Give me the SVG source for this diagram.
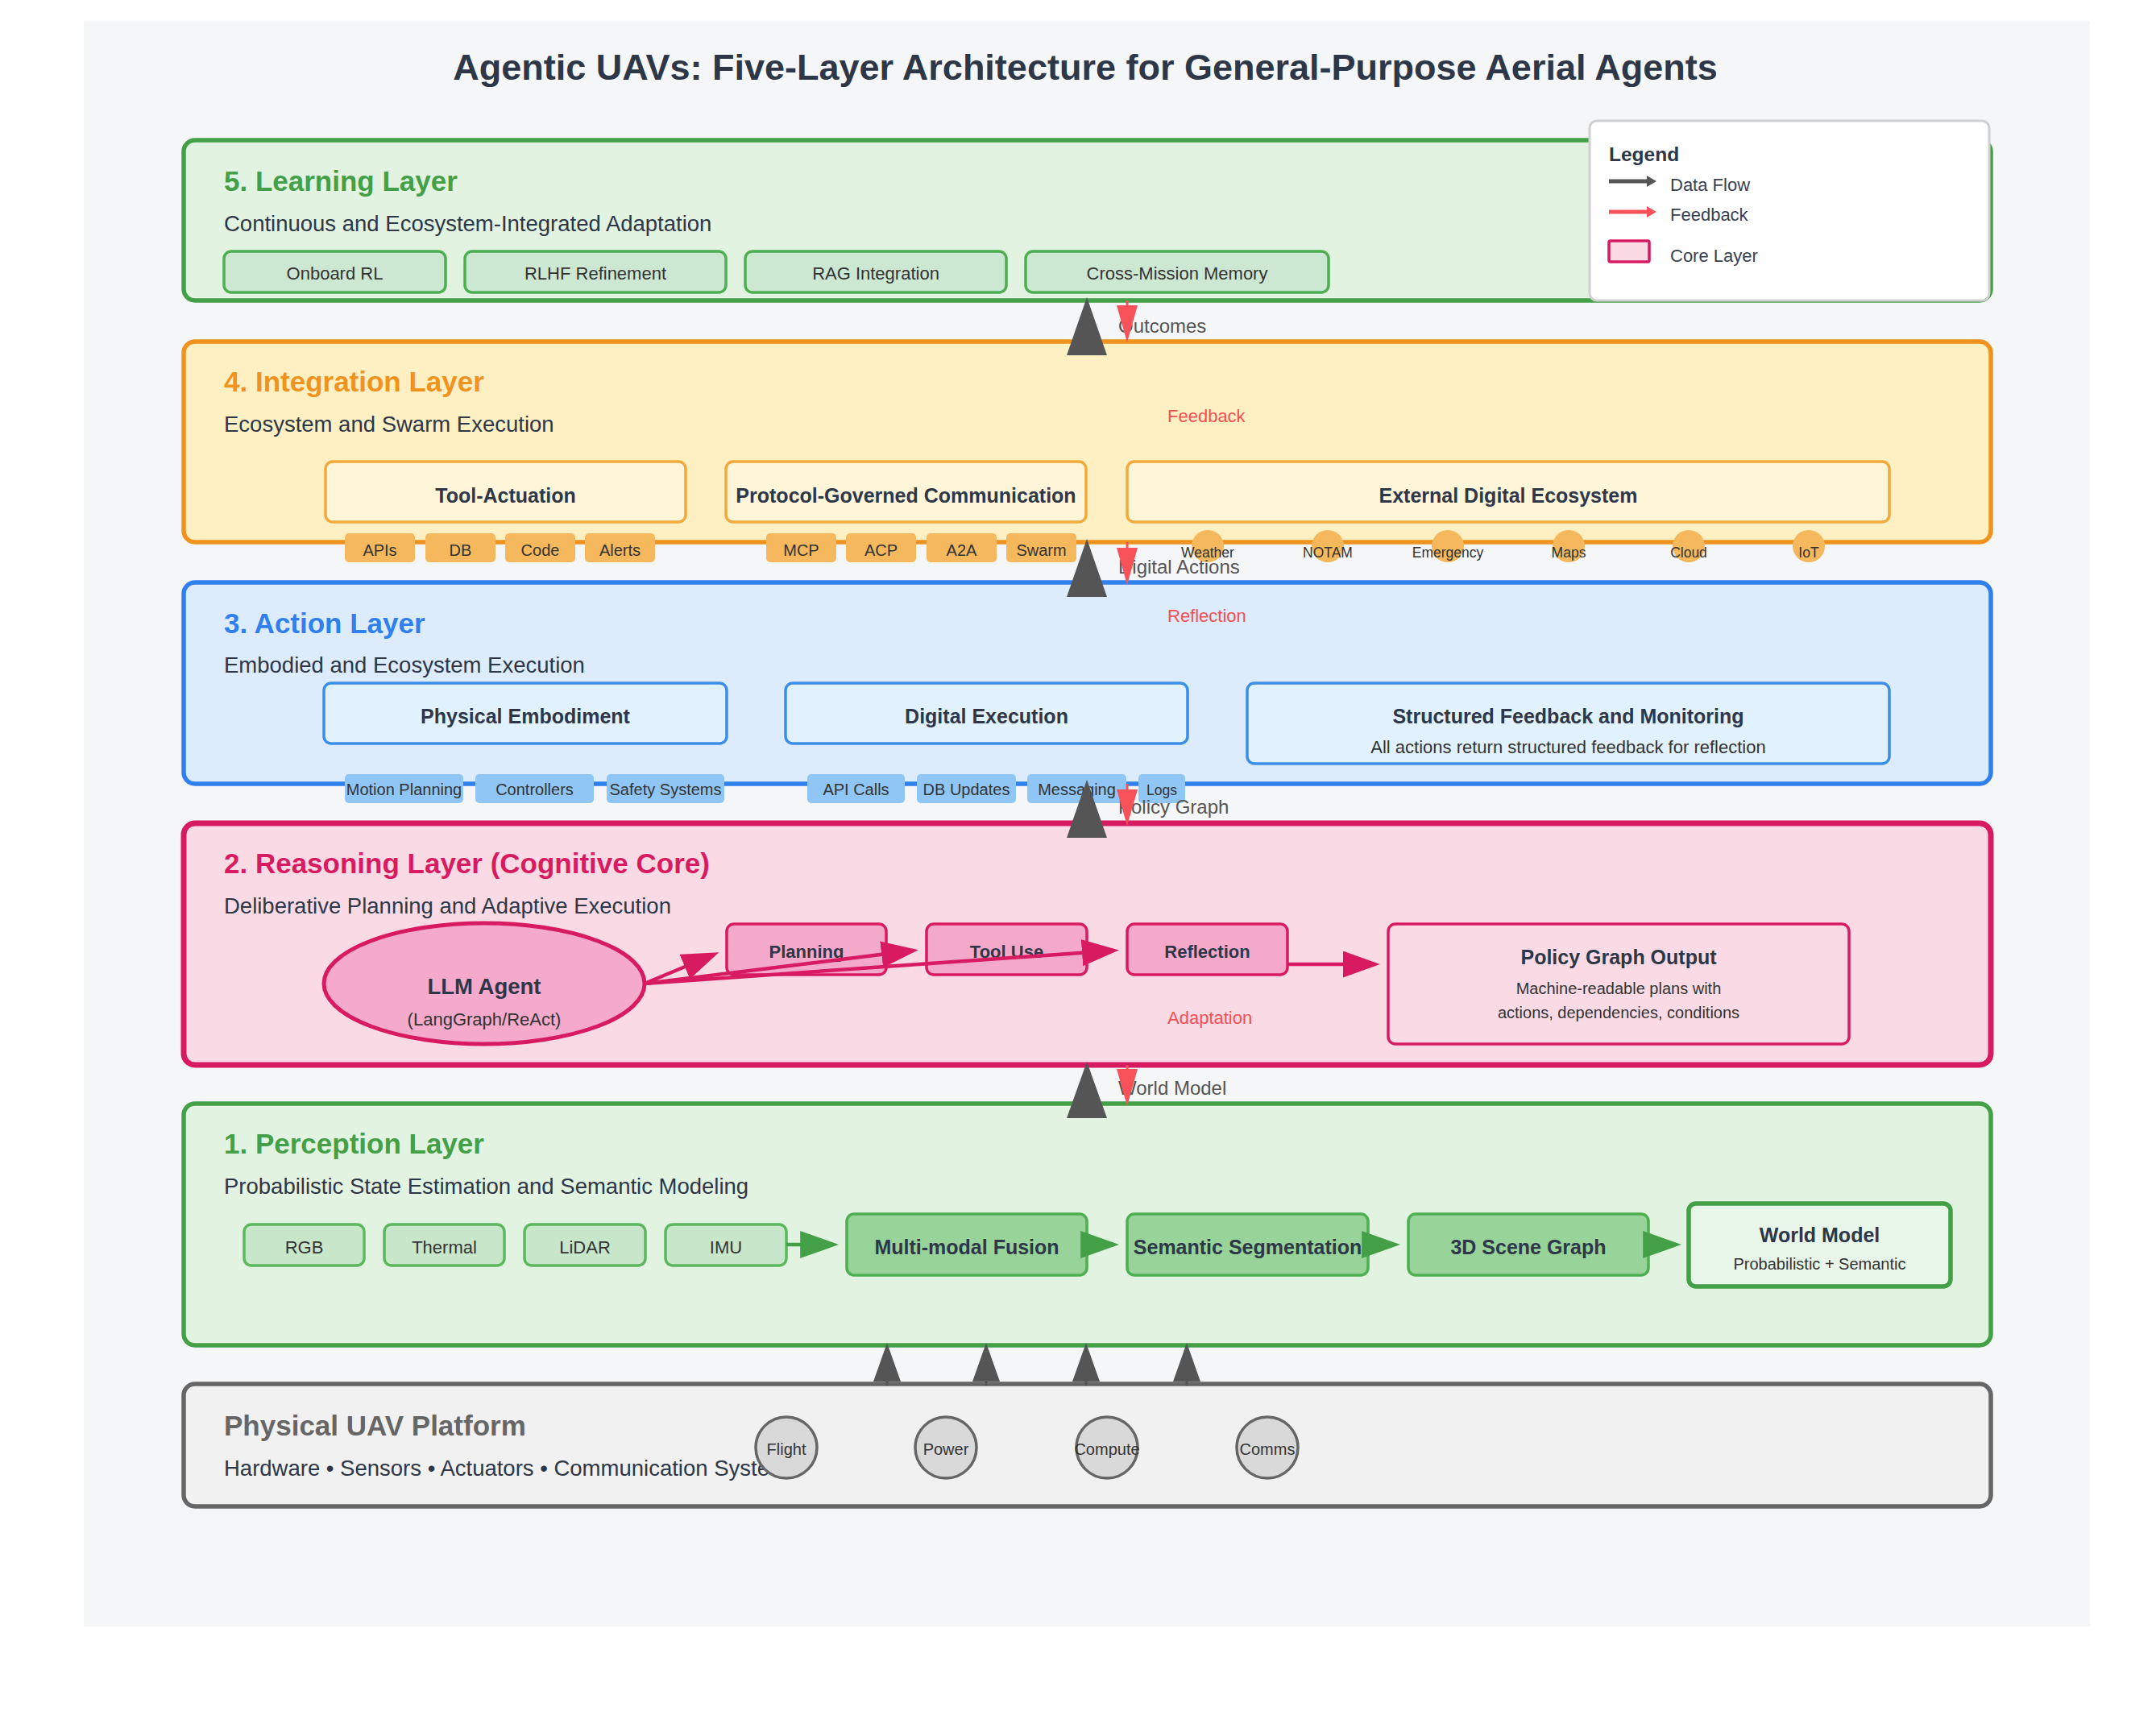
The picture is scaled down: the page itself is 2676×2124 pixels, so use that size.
<svg xmlns="http://www.w3.org/2000/svg" width="2676" height="2124" viewBox="0 0 2676 2124">
<defs>
<style>
text{font-family:'Liberation Sans',Arial,Helvetica,sans-serif;}
.lt{font-size:35px;font-weight:bold;}
.ls{font-size:27.5px;fill:#2d3748;}
.bt{font-size:25px;font-weight:bold;fill:#2d3748;text-anchor:middle;}
.bt22{font-size:22px;font-weight:bold;fill:#2d3748;text-anchor:middle;}
.ct{font-size:22px;fill:#333;text-anchor:middle;}
.c20{font-size:20px;fill:#333;text-anchor:middle;}
.c18{font-size:17.5px;fill:#333;text-anchor:middle;}
.el{font-size:24px;fill:#555;}
.fl{font-size:22px;fill:#f25055;}
.lg{font-size:22px;fill:#374151;}
.gchip{fill:#cde8d2;stroke:#4caf50;stroke-width:3.5;}
.ochip{fill:#f6b85c;}
.bchip{fill:#90c6f5;}
.obox{fill:#fff6da;stroke:#f2a93b;stroke-width:3.5;}
.bbox{fill:#e1f2fe;stroke:#3b8ee8;stroke-width:3.5;}
.pbox{fill:#f4a9cb;stroke:#d81b60;stroke-width:3.5;}
.schip{fill:#c8e6c9;stroke:#5cb85f;stroke-width:3.5;}
.proc{fill:#98d39a;stroke:#4caf50;stroke-width:3.5;}
.hw{fill:#d9d9d9;stroke:#666;stroke-width:3.5;}
.dark{fill:#555;}
.red{fill:#f7525a;}
.stem-d{stroke:#555;stroke-width:3;}
.stem-r{stroke:#f7525a;stroke-width:3;}
.garrow{stroke:#43a047;stroke-width:4.5;fill:none;marker-end:url(#ah-green);}
.parrow{stroke:#d81b60;stroke-width:4.5;fill:none;marker-end:url(#ah-pink);}
</style>
<marker id="ah-green" viewBox="0 0 10 7" refX="8.5" refY="3.5" markerWidth="48" markerHeight="34" markerUnits="userSpaceOnUse" orient="auto" preserveAspectRatio="none">
<path d="M0,0 L10,3.5 L0,7 z" fill="#43a047"/>
</marker>
<marker id="ah-pink" viewBox="0 0 10 7" refX="8.5" refY="3.5" markerWidth="46" markerHeight="33" markerUnits="userSpaceOnUse" orient="auto" preserveAspectRatio="none">
<path d="M0,0 L10,3.5 L0,7 z" fill="#d81b60"/>
</marker>
<marker id="ah-leg-dark" viewBox="0 0 12 14" refX="2" refY="7" markerWidth="12" markerHeight="14" markerUnits="userSpaceOnUse" orient="auto">
<path d="M0,0 L12,7 L0,14 z" fill="#555"/>
</marker>
<marker id="ah-leg-red" viewBox="0 0 12 14" refX="2" refY="7" markerWidth="12" markerHeight="14" markerUnits="userSpaceOnUse" orient="auto">
<path d="M0,0 L12,7 L0,14 z" fill="#f7525a"/>
</marker>
</defs>

<rect x="0" y="0" width="2676" height="2124" fill="#ffffff"/>
<rect x="104" y="26" width="2490" height="1993" fill="#f5f6f8"/>
<text x="1347" y="99" text-anchor="middle" font-size="45" font-weight="bold" fill="#2d3748">Agentic UAVs: Five-Layer Architecture for General-Purpose Aerial Agents</text>

<!-- Layer 5 -->
<g id="layer5-learning">
<rect x="228" y="174" width="2243" height="199" rx="14" fill="#e2f3e1" stroke="#43a047" stroke-width="5.5"/>
<text x="278" y="237" class="lt" fill="#43a047">5. Learning Layer</text>
<text x="278" y="287" class="ls">Continuous and Ecosystem-Integrated Adaptation</text>
</g>
<g id="onboard-rl"><rect x="278" y="312" width="275" height="51" rx="9" class="gchip"/><text x="415.5" y="347" class="ct">Onboard RL</text></g>
<g id="rlhf-refinement"><rect x="577" y="312" width="324" height="51" rx="9" class="gchip"/><text x="739" y="347" class="ct">RLHF Refinement</text></g>
<g id="rag-integration"><rect x="925" y="312" width="324" height="51" rx="9" class="gchip"/><text x="1087" y="347" class="ct">RAG Integration</text></g>
<g id="cross-mission-memory"><rect x="1273" y="312" width="376" height="51" rx="9" class="gchip"/><text x="1461" y="347" class="ct">Cross-Mission Memory</text></g>

<!-- Layer 4 -->
<g id="layer4-integration">
<rect x="228" y="424" width="2243" height="249" rx="14" fill="#fff0c4" stroke="#f0921e" stroke-width="5.5"/>
<text x="278" y="486" class="lt" fill="#f0921e">4. Integration Layer</text>
<text x="278" y="536" class="ls">Ecosystem and Swarm Execution</text>
</g>
<g id="tool-actuation"><rect x="404" y="573" width="447" height="75" rx="9" class="obox"/><text x="627.5" y="624" class="bt">Tool-Actuation</text></g>
<g id="protocol-communication"><rect x="901" y="573" width="447" height="75" rx="9" class="obox"/><text x="1124.5" y="624" class="bt">Protocol-Governed Communication</text></g>
<g id="external-ecosystem"><rect x="1399" y="573" width="946" height="75" rx="9" class="obox"/><text x="1872" y="624" class="bt">External Digital Ecosystem</text></g>
<g id="chip-apis"><rect x="428" y="662" width="87" height="36" rx="5" class="ochip"/><text x="471.5" y="690" class="c20">APIs</text></g>
<g id="chip-db"><rect x="528" y="662" width="87" height="36" rx="5" class="ochip"/><text x="571.5" y="690" class="c20">DB</text></g>
<g id="chip-code"><rect x="627" y="662" width="87" height="36" rx="5" class="ochip"/><text x="670.5" y="690" class="c20">Code</text></g>
<g id="chip-alerts"><rect x="726" y="662" width="87" height="36" rx="5" class="ochip"/><text x="769.5" y="690" class="c20">Alerts</text></g>
<g id="chip-mcp"><rect x="951" y="662" width="87" height="36" rx="5" class="ochip"/><text x="994.5" y="690" class="c20">MCP</text></g>
<g id="chip-acp"><rect x="1050" y="662" width="87" height="36" rx="5" class="ochip"/><text x="1093.5" y="690" class="c20">ACP</text></g>
<g id="chip-a2a"><rect x="1150" y="662" width="87" height="36" rx="5" class="ochip"/><text x="1193.5" y="690" class="c20">A2A</text></g>
<g id="chip-swarm"><rect x="1249" y="662" width="87" height="36" rx="5" class="ochip"/><text x="1292.5" y="690" class="c20">Swarm</text></g>
<g id="eco-weather"><circle cx="1499" cy="678" r="20" class="ochip"/><text x="1499" y="692" class="c18">Weather</text></g>
<g id="eco-notam"><circle cx="1648" cy="678" r="20" class="ochip"/><text x="1648" y="692" class="c18">NOTAM</text></g>
<g id="eco-emergency"><circle cx="1797" cy="678" r="20" class="ochip"/><text x="1797" y="692" class="c18">Emergency</text></g>
<g id="eco-maps"><circle cx="1947" cy="678" r="20" class="ochip"/><text x="1947" y="692" class="c18">Maps</text></g>
<g id="eco-cloud"><circle cx="2096" cy="678" r="20" class="ochip"/><text x="2096" y="692" class="c18">Cloud</text></g>
<g id="eco-iot"><circle cx="2245" cy="678" r="20" class="ochip"/><text x="2245" y="692" class="c18">IoT</text></g>

<!-- Layer 3 -->
<g id="layer3-action">
<rect x="228" y="723" width="2243" height="250" rx="14" fill="#dcecfc" stroke="#2f80ed" stroke-width="5.5"/>
<text x="278" y="786" class="lt" fill="#2f80ed">3. Action Layer</text>
<text x="278" y="835" class="ls">Embodied and Ecosystem Execution</text>
</g>
<g id="physical-embodiment"><rect x="402" y="848" width="500" height="75" rx="9" class="bbox"/><text x="652" y="898" class="bt">Physical Embodiment</text></g>
<g id="digital-execution"><rect x="975" y="848" width="499" height="75" rx="9" class="bbox"/><text x="1224.5" y="898" class="bt">Digital Execution</text></g>
<g id="structured-feedback"><rect x="1548" y="848" width="797" height="100" rx="9" class="bbox"/><text x="1946.5" y="898" class="bt">Structured Feedback and Monitoring</text><text x="1946.5" y="935" class="ct">All actions return structured feedback for reflection</text></g>
<g id="chip-motion-planning"><rect x="428" y="961" width="147" height="36" rx="5" class="bchip"/><text x="501.5" y="987" class="c20">Motion Planning</text></g>
<g id="chip-controllers"><rect x="590" y="961" width="147" height="36" rx="5" class="bchip"/><text x="663.5" y="987" class="c20">Controllers</text></g>
<g id="chip-safety"><rect x="753" y="961" width="146" height="36" rx="5" class="bchip"/><text x="826" y="987" class="c20">Safety Systems</text></g>
<g id="chip-api-calls"><rect x="1002" y="961" width="121" height="36" rx="5" class="bchip"/><text x="1062.5" y="987" class="c20">API Calls</text></g>
<g id="chip-db-updates"><rect x="1138" y="961" width="123" height="36" rx="5" class="bchip"/><text x="1199.5" y="987" class="c20">DB Updates</text></g>
<g id="chip-messaging"><rect x="1275" y="961" width="123" height="36" rx="5" class="bchip"/><text x="1336.5" y="987" class="c20">Messaging</text></g>
<g id="chip-logs"><rect x="1413" y="961" width="58" height="36" rx="5" class="bchip"/><text x="1442" y="987" class="c18">Logs</text></g>

<!-- Layer 2 -->
<g id="layer2-reasoning">
<rect x="228" y="1022" width="2243" height="300" rx="14" fill="#fadbe5" stroke="#d81b60" stroke-width="7"/>
<text x="278" y="1084" class="lt" fill="#d81b60">2. Reasoning Layer (Cognitive Core)</text>
<text x="278" y="1134" class="ls">Deliberative Planning and Adaptive Execution</text>
</g>
<g id="llm-agent"><ellipse cx="601" cy="1221" rx="199" ry="75" fill="#f5a9cb" stroke="#d81b60" stroke-width="5"/><text x="601" y="1234" text-anchor="middle" font-size="27.5" font-weight="bold" fill="#2d3748">LLM Agent</text><text x="601" y="1273" class="ct">(LangGraph/ReAct)</text></g>
<g id="planning"><rect x="902" y="1147" width="198" height="63" rx="9" class="pbox"/><text x="1001" y="1189" class="bt22">Planning</text></g>
<g id="tool-use"><rect x="1150" y="1147" width="199" height="63" rx="9" class="pbox"/><text x="1249.5" y="1189" class="bt22">Tool Use</text></g>
<g id="reflection"><rect x="1399" y="1147" width="199" height="63" rx="9" class="pbox"/><text x="1498.5" y="1189" class="bt22">Reflection</text></g>
<g id="policy-graph-output"><rect x="1723" y="1147" width="572" height="149" rx="9" fill="#fadbe5" stroke="#d81b60" stroke-width="3.5"/><text x="2009" y="1197" class="bt">Policy Graph Output</text><text x="2009" y="1234" class="c20">Machine-readable plans with</text><text x="2009" y="1264" class="c20">actions, dependencies, conditions</text></g>

<!-- Layer 1 -->
<g id="layer1-perception">
<rect x="228" y="1370" width="2243" height="300" rx="14" fill="#e2f3e1" stroke="#43a047" stroke-width="5.5"/>
<text x="278" y="1432" class="lt" fill="#43a047">1. Perception Layer</text>
<text x="278" y="1482" class="ls">Probabilistic State Estimation and Semantic Modeling</text>
</g>
<g id="sensor-rgb"><rect x="303" y="1520" width="149" height="51" rx="9" class="schip"/><text x="377.5" y="1556" class="ct">RGB</text></g>
<g id="sensor-thermal"><rect x="477" y="1520" width="149" height="51" rx="9" class="schip"/><text x="551.5" y="1556" class="ct">Thermal</text></g>
<g id="sensor-lidar"><rect x="651" y="1520" width="150" height="51" rx="9" class="schip"/><text x="726" y="1556" class="ct">LiDAR</text></g>
<g id="sensor-imu"><rect x="826" y="1520" width="150" height="51" rx="9" class="schip"/><text x="901" y="1556" class="ct">IMU</text></g>
<g id="multimodal-fusion"><rect x="1051" y="1507" width="298" height="76" rx="9" class="proc"/><text x="1200" y="1557" class="bt">Multi-modal Fusion</text></g>
<g id="semantic-segmentation"><rect x="1399" y="1507" width="299" height="76" rx="9" class="proc"/><text x="1548.5" y="1557" class="bt">Semantic Segmentation</text></g>
<g id="scene-graph"><rect x="1748" y="1507" width="298" height="76" rx="9" class="proc"/><text x="1897" y="1557" class="bt">3D Scene Graph</text></g>
<g id="world-model"><rect x="2096" y="1494" width="325" height="103" rx="9" fill="#e8f5e9" stroke="#43a047" stroke-width="5.5"/><text x="2258.5" y="1542" class="bt">World Model</text><text x="2258.5" y="1576" class="c20">Probabilistic + Semantic</text></g>

<!-- Platform -->
<g id="physical-platform">
<rect x="228" y="1718" width="2243" height="152" rx="14" fill="#f1f1f1" stroke="#666" stroke-width="5.5"/>
<text x="278" y="1782" class="lt" fill="#666">Physical UAV Platform</text>
<text x="278" y="1832" class="ls">Hardware • Sensors • Actuators • Communication Systems</text>
</g>
<g id="hw-flight"><circle cx="976" cy="1797" r="38" class="hw"/><text x="976" y="1806" class="c20">Flight</text></g>
<g id="hw-power"><circle cx="1174" cy="1797" r="38" class="hw"/><text x="1174" y="1806" class="c20">Power</text></g>
<g id="hw-compute"><circle cx="1374" cy="1797" r="38" class="hw"/><text x="1374" y="1806" class="c20">Compute</text></g>
<g id="hw-comms"><circle cx="1573" cy="1797" r="38" class="hw"/><text x="1573" y="1806" class="c20">Comms</text></g>

<!-- Legend -->
<g id="legend">
<rect x="1973" y="150" width="496" height="223" rx="9" fill="#ffffff" stroke="#d0d0d0" stroke-width="3"/>
<text x="1997" y="200" font-size="24.5" font-weight="bold" fill="#2d3748">Legend</text>
<line x1="1997" y1="225" x2="2046" y2="225" stroke="#555" stroke-width="5" marker-end="url(#ah-leg-dark)"/>
<text x="2073" y="237" class="lg">Data Flow</text>
<line x1="1997" y1="263" x2="2046" y2="263" stroke="#f7525a" stroke-width="5" marker-end="url(#ah-leg-red)"/>
<text x="2073" y="274" class="lg">Feedback</text>
<rect x="1997" y="299" width="50" height="26" rx="2" fill="#fadbe5" stroke="#d81b60" stroke-width="3.5"/>
<text x="2073" y="325" class="lg">Core Layer</text>
</g>

<!-- Connectors -->
<g id="connectors">
<text x="1388" y="413" class="el">Outcomes</text>
<text x="1388" y="712" class="el">Digital Actions</text>
<text x="1388" y="1010" class="el">Policy Graph</text>
<text x="1388" y="1359" class="el">World Model</text>
<text x="1449" y="524" class="fl">Feedback</text>
<text x="1449" y="772" class="fl">Reflection</text>
<text x="1449" y="1271" class="fl">Adaptation</text>

<polygon class="dark" points="1349,369 1324,441 1374,441"/>
<polygon class="dark" points="1349,669 1324,741 1374,741"/>
<polygon class="dark" points="1349,968 1324,1040 1374,1040"/>
<polygon class="dark" points="1349,1318 1324,1388 1374,1388"/>

<line class="stem-r" x1="1399" y1="373" x2="1399" y2="380"/>
<polygon class="red" points="1386,379 1412,379 1399,425"/>
<line class="stem-r" x1="1399" y1="673" x2="1399" y2="681"/>
<polygon class="red" points="1386,680 1412,680 1399,726"/>
<line class="stem-r" x1="1399" y1="973" x2="1399" y2="981"/>
<polygon class="red" points="1386,980 1412,980 1399,1025"/>
<line class="stem-r" x1="1399" y1="1322" x2="1399" y2="1328"/>
<polygon class="red" points="1386,1327 1412,1327 1399,1373"/>

<line class="stem-d" x1="1101" y1="1714" x2="1101" y2="1720"/>
<polygon class="dark" points="1101,1667 1084,1715 1118,1715"/>
<line class="stem-d" x1="1224" y1="1714" x2="1224" y2="1720"/>
<polygon class="dark" points="1224,1667 1207,1715 1241,1715"/>
<line class="stem-d" x1="1348" y1="1714" x2="1348" y2="1720"/>
<polygon class="dark" points="1348,1667 1331,1715 1365,1715"/>
<line class="stem-d" x1="1473" y1="1714" x2="1473" y2="1720"/>
<polygon class="dark" points="1473,1667 1456,1715 1490,1715"/>

<line class="garrow" x1="976" y1="1545" x2="1034" y2="1545"/>
<line class="garrow" x1="1349" y1="1545" x2="1382" y2="1545"/>
<line class="garrow" x1="1698" y1="1545" x2="1731" y2="1545"/>
<line class="garrow" x1="2046" y1="1545" x2="2080" y2="1545"/>

<line class="parrow" x1="800" y1="1221" x2="886" y2="1185"/>
<line class="parrow" x1="800" y1="1221" x2="1133" y2="1180"/>
<line class="parrow" x1="800" y1="1221" x2="1382" y2="1180"/>
<line class="parrow" x1="1598" y1="1197" x2="1706" y2="1197"/>
</g>
</svg>
